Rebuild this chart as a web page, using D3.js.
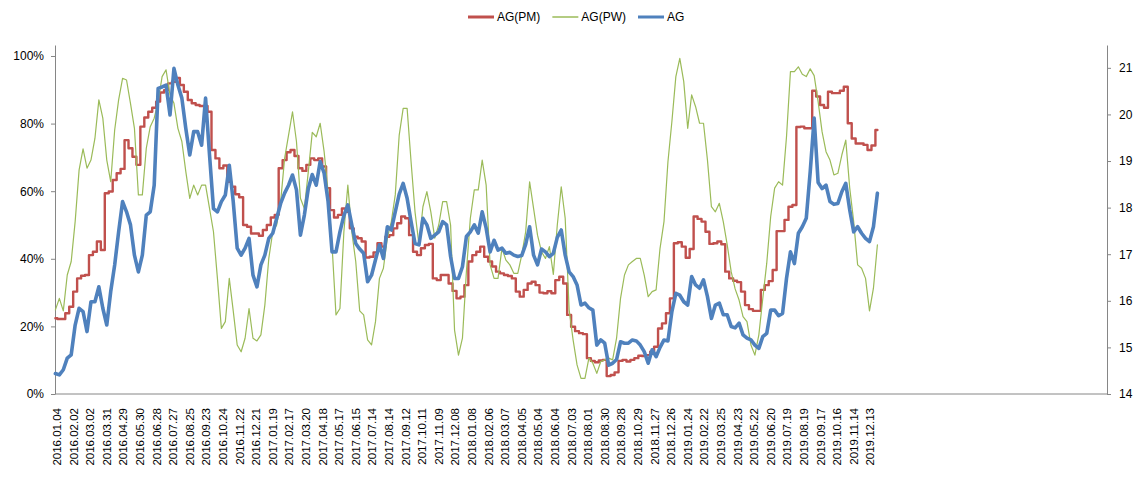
<!DOCTYPE html>
<html>
<head>
<meta charset="utf-8">
<title>AG</title>
<script src="https://cdn.jsdelivr.net/npm/d3@7"></script>
<style>
  body { margin: 0; background: #fff; }
  svg text { font-family: "Liberation Sans", Arial, sans-serif; fill: #000; }
</style>
</head>
<body>
<div id="chart"></div>
<script>
// category axis: one slot per weekday, a label every 21 slots
var tickLabels = [
  "2016.01.04","2016.02.02","2016.03.02","2016.03.31","2016.04.29","2016.05.30","2016.06.28",
  "2016.07.27","2016.08.25","2016.09.23","2016.10.24","2016.11.22","2016.12.21",
  "2017.01.19","2017.02.17","2017.03.20","2017.04.18","2017.05.17","2017.06.15","2017.07.14",
  "2017.08.14","2017.09.12","2017.10.11","2017.11.09","2017.12.08",
  "2018.01.08","2018.02.06","2018.03.07","2018.04.05","2018.05.04","2018.06.04","2018.07.03",
  "2018.08.01","2018.08.30","2018.09.28","2018.10.29","2018.11.27","2018.12.26",
  "2019.01.24","2019.02.22","2019.03.25","2019.04.23","2019.05.22","2019.06.20","2019.07.19",
  "2019.08.19","2019.09.17","2019.10.16","2019.11.14","2019.12.13"
];
var tickStep = 21;
var slotCount = 1331;
var sampleStep = 5;   // values below are read every 5 slots (about weekly)

// AG(PM), percent
var pm = [
  22.4,22.2,22.2,23.9,25.8,30.3,34.2,35.0,35.2,41.1,
  42.1,45.1,42.6,59.4,59.9,63.3,65.3,66.6,75.1,72.7,
  70.2,67.8,79.1,81.8,83.5,84.7,86.5,89.2,89.9,91.9,
  92.4,93.5,91.4,89.4,87.0,86.0,85.5,85.2,85.2,83.5,
  72.2,69.7,66.8,67.6,62.8,61.3,59.1,58.2,50.0,49.5,
  47.5,47.5,46.8,48.5,50.0,52.2,53.0,66.8,69.2,71.5,
  72.2,70.4,66.8,66.0,67.8,69.7,69.2,69.7,67.3,60.9,
  54.4,52.2,53.0,54.9,53.9,49.0,46.5,46.1,45.1,40.4,
  40.6,41.9,44.6,43.6,46.5,47.0,49.0,50.5,52.5,52.0,
  47.0,42.1,41.1,43.1,44.1,44.4,34.2,33.7,35.2,35.2,
  32.7,30.5,28.3,28.8,32.2,39.2,41.1,42.1,43.6,40.6,
  39.2,37.7,36.2,35.7,35.2,34.9,34.2,30.3,28.8,30.8,
  32.7,33.2,32.2,30.0,29.8,30.4,29.8,33.7,34.7,32.7,
  23.4,19.9,18.6,18.0,17.7,10.6,9.8,9.4,9.9,10.1,
  5.3,5.6,6.4,9.8,10.1,9.6,10.1,10.6,11.3,11.2,
  11.5,12.5,14.0,19.4,20.9,23.9,28.3,44.6,44.9,43.6,
  40.3,42.9,52.5,51.8,51.0,48.0,44.4,44.6,45.1,44.3,
  36.2,34.2,33.5,33.1,30.3,26.3,25.1,24.6,24.6,30.8,
  32.2,33.4,36.7,48.2,48.2,51.5,55.4,55.9,79.0,79.1,
  78.6,78.6,89.7,88.0,85.5,84.7,89.4,89.0,89.0,89.7,
  90.9,80.1,75.6,74.1,74.1,73.7,72.2,73.5,78.1];

// AG(PW), percent
var pw = [
  24.9,28.3,24.6,35.2,39.2,51.0,66.3,72.5,66.8,69.2,
  75.6,87.0,81.6,69.2,62.8,78.1,87.0,93.4,92.9,86.0,
  78.6,58.9,58.9,72.7,79.1,81.6,86.5,93.9,95.9,88.5,
  86.0,78.6,74.7,65.8,57.9,61.8,58.9,61.8,61.8,54.9,
  48.0,34.2,19.4,21.4,34.2,24.6,14.5,12.5,16.5,25.3,
  16.5,15.7,17.5,26.3,40.1,48.0,50.0,56.9,69.7,76.6,
  83.5,74.7,57.9,54.9,65.8,77.4,76.1,80.1,71.7,59.9,
  44.1,23.4,25.3,48.0,61.8,48.0,39.2,24.6,23.4,16.0,
  14.5,21.4,34.2,37.2,46.1,51.0,58.9,76.6,84.5,84.5,
  68.7,53.9,44.1,55.4,59.9,53.9,46.1,50.0,56.9,56.9,
  50.0,18.9,11.5,16.5,36.2,52.0,60.4,60.4,69.2,61.8,
  38.2,34.2,34.2,43.1,39.6,38.2,35.7,35.7,41.1,48.0,
  62.8,54.9,47.0,42.1,40.1,43.6,35.4,50.0,61.3,52.0,
  24.9,16.0,8.6,4.6,4.6,10.6,9.1,6.1,9.6,10.1,
  10.6,10.1,16.5,28.3,35.2,38.2,39.2,40.1,40.1,35.2,
  28.8,30.3,30.8,43.1,51.0,68.7,80.6,93.9,99.3,92.4,
  78.6,88.5,85.0,80.1,80.1,69.2,55.4,53.9,56.4,51.0,
  44.1,36.2,31.1,27.8,22.9,21.4,14.5,11.5,17.5,28.3,
  38.7,52.5,60.9,62.8,61.8,76.1,95.4,95.4,96.8,94.6,
  93.9,96.2,94.2,86.5,77.6,71.7,69.2,64.8,65.3,70.7,
  75.1,60.9,51.0,38.2,37.2,34.2,24.6,31.3,44.1];

// AG price, right axis
var ag = [
  14.44,14.41,14.52,14.77,14.84,15.48,15.84,15.77,15.34,15.98,
  15.98,16.30,15.84,15.48,16.20,16.77,17.48,18.13,17.91,17.63,
  16.98,16.62,16.98,17.84,17.91,18.48,20.56,20.59,20.63,19.99,
  20.99,20.63,20.35,19.70,19.13,19.63,19.63,19.34,20.35,19.13,
  17.98,17.91,18.13,18.27,18.91,18.13,17.13,16.98,17.13,17.34,
  16.55,16.30,16.77,16.98,17.34,17.45,17.77,18.09,18.31,18.48,
  18.70,18.38,17.41,17.84,18.41,18.71,18.48,18.99,18.74,18.13,
  17.05,17.05,17.48,17.83,18.06,17.63,17.23,17.11,17.02,16.41,
  16.55,16.88,17.20,16.91,17.59,17.52,17.91,18.29,18.52,18.20,
  17.70,17.23,17.20,17.77,17.63,17.34,17.41,17.48,17.70,17.63,
  16.95,16.48,16.48,16.73,17.38,17.48,17.63,17.45,17.91,17.56,
  17.05,17.30,17.09,17.13,17.02,17.04,16.98,16.95,16.97,17.21,
  17.59,16.98,16.77,17.11,17.05,16.95,17.02,17.36,17.52,16.98,
  16.62,16.52,16.34,15.91,15.95,15.85,15.80,15.05,15.16,15.09,
  14.62,14.66,14.74,15.12,15.09,15.09,15.16,15.14,15.05,14.91,
  14.66,14.95,14.80,15.00,15.16,15.14,15.77,16.16,16.12,15.98,
  15.91,16.52,16.34,16.27,16.45,16.09,15.62,15.91,15.95,15.70,
  15.70,15.45,15.42,15.52,15.27,15.20,15.16,15.05,14.98,15.23,
  15.30,15.80,15.80,15.68,15.73,16.48,17.05,16.80,17.45,17.59,
  17.77,18.77,19.92,18.54,18.41,18.48,18.13,18.07,18.09,18.34,
  18.52,17.95,17.48,17.59,17.45,17.34,17.27,17.59,18.31];

var pctTicks = [0, 20, 40, 60, 80, 100];
var priceTicks = [14, 15, 16, 17, 18, 19, 20, 21];

var width = 1146, height = 480;
var plotLeft = 55, plotRight = 1107, plotTop = 45, plotBottom = 394;
var axisColor = "#868686";

var svg = d3.select("#chart").append("svg")
  .attr("width", width)
  .attr("height", height);

var x = d3.scaleLinear().domain([0, slotCount]).range([plotLeft, plotRight]);
var yPct = d3.scaleLinear().domain([0, 103.25]).range([plotBottom, plotTop]);
var yPrice = d3.scaleLinear().domain([14, 21.49]).range([plotBottom, plotTop]);

function slotX(i) { return x(i + 0.5); }

// left axis
var gl = svg.append("g")
  .attr("transform", "translate(" + plotLeft + ",0)")
  .call(d3.axisLeft(yPct).tickValues(pctTicks).tickFormat(function(d) { return d + "%"; })
    .tickSizeInner(4).tickSizeOuter(0).tickPadding(7));

// right axis
var gr = svg.append("g")
  .attr("transform", "translate(" + plotRight + ",0)")
  .call(d3.axisRight(yPrice).tickValues(priceTicks)
    .tickSizeInner(4).tickSizeOuter(0).tickPadding(8));

// bottom axis
var gx = svg.append("g")
  .attr("transform", "translate(0," + plotBottom + ")")
  .call(d3.axisBottom(x)
    .tickValues(tickLabels.map(function(d, i) { return i * tickStep + 0.5; }))
    .tickFormat(function(d, i) { return tickLabels[i]; })
    .tickSize(0).tickSizeOuter(0));

gx.selectAll("text")
  .attr("transform", "rotate(-90)")
  .attr("x", -14)
  .attr("y", 0)
  .attr("dy", "0.45em")
  .style("text-anchor", "end")
  .style("font-size", "11.5px");

[gl, gr, gx].forEach(function(g) {
  g.select(".domain").attr("stroke", axisColor);
  g.selectAll(".tick line").attr("stroke", axisColor);
  g.selectAll(".tick text").style("font-family", '"Liberation Sans", Arial, sans-serif').attr("fill", "#000");
});
gl.selectAll("text").style("font-size", "12px");
gr.selectAll("text").style("font-size", "12px");
gx.select(".domain").attr("d", "M" + plotLeft + ",0H" + plotRight);

var series = [
  { name: "AG(PM)", values: pm, scale: yPct, color: "#C0504D", width: 2.4, curve: d3.curveStep },
  { name: "AG(PW)", values: pw, scale: yPct, color: "#9BBB59", width: 1.2, curve: d3.curveLinear },
  { name: "AG", values: ag, scale: yPrice, color: "#4F81BD", width: 3.6, curve: d3.curveLinear }
];

series.forEach(function(s) {
  var line = d3.line()
    .x(function(d, i) { return slotX(i * sampleStep); })
    .y(function(d) { return s.scale(d); })
    .curve(s.curve);
  svg.append("path")
    .datum(s.values)
    .attr("fill", "none")
    .attr("stroke", s.color)
    .attr("stroke-width", s.width)
    .attr("stroke-linejoin", "round")
    .attr("stroke-linecap", "round")
    .attr("d", line);
});

// legend
var legend = svg.append("g").attr("transform", "translate(0,17)");
var lx = 468;
series.forEach(function(s) {
  legend.append("line")
    .attr("x1", lx).attr("x2", lx + 26)
    .attr("y1", 0).attr("y2", 0)
    .attr("stroke", s.color)
    .attr("stroke-width", s.name == "AG(PW)" ? 1.5 : 3);
  var t = legend.append("text")
    .attr("x", lx + 29)
    .attr("y", 0)
    .attr("dy", "0.35em")
    .style("font-size", "12px")
    .text(s.name);
  lx = lx + 29 + t.node().getComputedTextLength() + 12;
});
</script>
</body>
</html>
